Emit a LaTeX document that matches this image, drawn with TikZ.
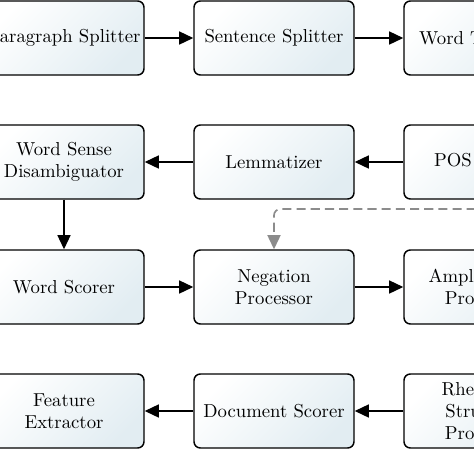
\documentclass[tikz,border=0pt]{standalone}
\usetikzlibrary{arrows.meta}
\definecolor{blockblue}{HTML}{E2EDF2}
\tikzset{
    block/.style={draw, line width=0.8pt, rounded corners=3.5pt, align=center,
        inner xsep=1pt, minimum width=88pt, minimum height=40.7pt,
        top color=white, bottom color=blockblue, shading angle=45},
    flow/.style={->, line width=0.8pt},
    hint/.style={->, line width=0.9pt, black!45, dash pattern=on 5pt off 2.8pt, rounded corners=3.5pt}
}
\begin{document}
\begin{tikzpicture}[>={Triangle[length=7.8pt,width=7.2pt]}, font=\fontsize{10.3}{12.2}\selectfont, x=0.55pt, y=-0.55pt]
            \useasboundingbox (0,0) rectangle (474,474);
            \clip (0,0) rectangle (474,474);
            % row 1
            \node[block] (para) at (64,38) {Paragraph Splitter};
            \node[block] (sent) at (274,38) {Sentence Splitter};
            \node[block] (tok) at (484,38) {Word Tokenizer};
            % row 2
            \node[block] (wsd) at (64,162) {Word Sense\\Disambiguator};
            \node[block] (lem) at (274,162) {Lemmatizer};
            \node[block] (pos) at (484,162) {POS Tagger};
            % row 3
            \node[block] (wscore) at (64,287) {Word Scorer};
            \node[block] (neg) at (274,287) {Negation\\Processor};
            \node[block] (ampl) at (484,287) {Amplification\\Processor};
            % row 4
            \node[block] (feat) at (64,411) {Feature\\Extractor};
            \node[block] (doc) at (274,411) {Document Scorer};
            \node[block] (rhet) at (484,411) {Rhetorical\\Structure\\Processor};
            \draw[flow] (para) -- (sent);
            \draw[flow] (sent) -- (tok);
            \draw[flow] (pos) -- (lem);
            \draw[flow] (lem) -- (wsd);
            \draw[flow] (wsd) -- (wscore);
            \draw[flow] (wscore) -- (neg);
            \draw[flow] (neg) -- (ampl);
            \draw[flow] (rhet) -- (doc);
            \draw[flow] (doc) -- (feat);
            %\draw[flow] (tok) -- (pos);
            \coordinate (negsrc) at (490,209);
            \draw[hint] (negsrc) -| (neg.north);
\end{tikzpicture}
\end{document}
